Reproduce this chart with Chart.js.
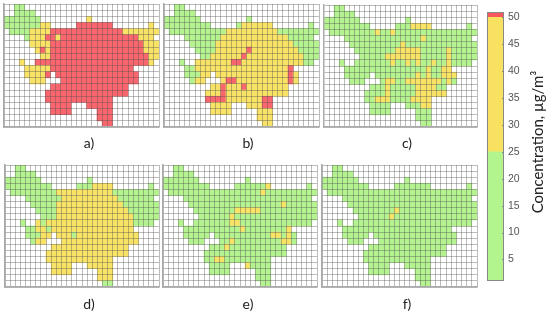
<!DOCTYPE html>
<html>
<head>
<meta charset="utf-8">
<script src="https://cdn.jsdelivr.net/npm/chart.js@4"></script>
<style>
  html, body { margin: 0; padding: 0; background: #fff; }
  canvas { position: absolute; }
</style>
</head>
<body>
<script>
// one string per grid row, top to bottom: . no data, g under 25, y 25-50, r over 50
var panelA = [
  "..gg..........................",
  "..gggg........................",
  "ggggggg.........y.............",
  "gggggggyy.....rrrrrrr.......y.",
  ".ggggyyyyrrrrrrrrrrrrrryyyyyyy",
  "....gyyyrryrrrrrrrrrrrrrrryyy.",
  ".....yyyyrrrrrrrrrrrrrrrrrryyy",
  "......yryrrrrrrrrrrrrrrrrrryyy",
  ".......yyrrrrrrrrrrrrrrrrrrryy",
  "...y..rrrrrrrrrrrrrrrrrrrrrry.",
  "....yyyyyrrrrrrrrrrrrrrrr.....",
  "....yyyyr.rrrrrrrrrrrrrrrr....",
  ".....yyy...rrrrrrrrrrrrrrr....",
  ".........rrrrrrrrrrrrrrr......",
  "........rrrrrrrrrrrrrrrr......",
  "........rrrrrrrrrrrrr.........",
  ".........rrrr...rrrrr.........",
  ".........rrrr.....rrr.........",
  "..................rrr.........",
  "...................rr........."
];
var panelB = [
  "..gg..........................",
  "..gggg........................",
  "ggggggg.........g.............",
  "ggggggggg.....gyyyyyy.......g.",
  ".gggggggggggyyyyyyyyyygggggggg",
  "....gggggggyyyyyyyyyyyyyggggg.",
  ".....gggggyyyyyyyyyyyyyyyggggg",
  "......ggggyyyyyyryyyyyyyyygggg",
  ".......ggyyyyyyryyyyyyyyyyyggg",
  "...g..yyyyyyyrryyyyyyyyyyyygg.",
  "....ggyyyyyyyyyyyyyyyyyyr.....",
  "....gggyy.yyyyyyyyyyyyyyry....",
  ".....gyy...yrryyyyyyyyyyry....",
  ".........yyryyyryyyyyyyy......",
  "........yyyryyyyyyyyyyyy......",
  "........rrrryyyyyyyrr.........",
  ".........yyyy...yyyrr.........",
  ".........yyyy.....yyy.........",
  "..................yyy.........",
  "...................yy........."
];
var panelC = [
  "..gg..........................",
  "..gggg........................",
  "ggggggg.........g.............",
  "ggggggggg.....gggyyyy.......g.",
  ".gggggggggyggygggggggggggggggg",
  "....gggggggggggggggyggggggggg.",
  ".....ggggggggggygggggggggggggg",
  "......ggggggggyyyyygggggyggggg",
  ".......gggggyyyyyyygggggyggggg",
  "...g..gggggggyggygyggyggygggg.",
  "....ggggggggggggggggyggyy.....",
  "....ggggg.ggggggggygyggyyy....",
  ".....ggg...gyyggyyyyyyygyg....",
  ".........gggygggggyyyygg......",
  "........ggggygggggyyyyyy......",
  "........ggyyyggggyyyy.........",
  ".........gggg...gggyy.........",
  ".........gggg.....ggg.........",
  "..................ggg.........",
  "...................gg........."
];
var panelD = [
  "..gg..........................",
  "..gggg........................",
  "ggggggg.........g.............",
  "ggggggggg.....gggyyyy.......g.",
  ".gggggggggyyyyyyyyyyyggggggggg",
  "....gggggggyyyyyyyyyyyggggggg.",
  ".....gggggyyyyyyyyyyyyyggggggg",
  "......ggggyyyyyyyyyyyyyygggggg",
  ".......gggyyyyyyyyyyyyyyyggggg",
  "...g..ygyyyyyyyyyyyyyyyyygggg.",
  "....ggyygyyyyyyyyyyyyyyyy.....",
  "....gggyy.yyygyyyyyyyyyyyy....",
  ".....gyy...yyyyyyyyyyyyyyy....",
  ".........yyyyyyyyyyyyyyy......",
  "........yyyyyyyyyyyyyyyy......",
  "........yyyyyyyyyyyyy.........",
  ".........yyyy...yyyyy.........",
  ".........yyyy.....yyy.........",
  "..................yyy.........",
  "...................gg........."
];
var panelE = [
  "..gg..........................",
  "..gggg........................",
  "ggggggg.........g.............",
  "ggggggggg.....ggggggy.......g.",
  ".ggggggggggggggggggygggggggggg",
  "....ggggggggggggggggggggggggg.",
  ".....ggggggggggggggggggygggggg",
  "......ggggggggyyyyyggggggggggg",
  ".......ggggggygggggggggggggggg",
  "...g..gggggggyygggggggggggggg.",
  "....gggggggggggyggggggggy.....",
  "....ggggg.gggggggggggyygyg....",
  ".....ggg...ggygggggggggyyg....",
  ".........gggyggggggggggg......",
  "........gggggggggggggggg......",
  "........ggyyggggggggg.........",
  ".........gggg...ygggg.........",
  ".........gggg.....ggg.........",
  "..................ggg.........",
  "...................gg........."
];
var panelF = [
  "..gg..........................",
  "..gggg........................",
  "ggggggg.........g.............",
  "ggggggggg.....ggggggg.......g.",
  ".ggggggggggggggggggggggggggggg",
  "....ggggggggggggggggggggggggg.",
  ".....ggggggggggggggggggggggggg",
  "......ggggggggyggggggggggggggg",
  ".......ggggggygggggggggggggggg",
  "...g..ggggggggggggggggggggggg.",
  "....ggggggggggggggggggggg.....",
  "....ggggg.gggggggggggggggg....",
  ".....ggg...ggggggggggggggg....",
  ".........ggggggggggggggg......",
  "........gggggggggggggggg......",
  "........ggggggggggggg.........",
  ".........gggg...ggggg.........",
  ".........gggg.....ggg.........",
  "..................ggg.........",
  "...................gg........."
];
var panelLabels = ["a)", "b)", "c)", "d)", "e)", "f)"];
var panelRows = [panelA, panelB, panelC, panelD, panelE, panelF];

var bandLow = [1, 25, 50];
var bandHigh = [25, 50, 51];
var tickValues = [5, 10, 15, 20, 25, 30, 35, 40, 45, 50];
var barTitle = "Concentration, µg/m³";

var cellColors = { ".": "rgba(0,0,0,0)", g: "#b4f390", y: "#f9e366", r: "#f9666d" };
var bandColors = ["#b2f58d", "#f8e161", "#f9565e"];
var gridColor = 'rgba(80,80,80,0.38)';
// left, top, width, height of each plot on the page, then centre and baseline of its label
var boxes = [
  [4, 4, 155, 123, 89, 148], [164, 4, 155, 123, 248, 148], [324, 5, 153, 122, 407, 148],
  [5, 165, 154, 122, 89, 309], [163, 165, 154, 122, 248, 309], [322, 165, 155, 122, 407, 309]
];

function addCanvas(left, top, w, h) {
  var c = document.createElement('canvas');
  c.width = w; c.height = h;
  c.style.left = left + 'px';
  c.style.top = top + 'px';
  c.style.width = w + 'px';
  c.style.height = h + 'px';
  document.body.appendChild(c);
  return c;
}

function drawPanel(rows, label, box) {
  var cols = [];
  for (var i = 0; i < rows[0].length; i++) cols.push(i + 1);
  // bars are stacked from the bottom, so the last row comes first
  var sets = rows.slice().reverse().map(function (row) {
    return {
      data: cols.map(function () { return 1; }),
      backgroundColor: row.split('').map(function (k) { return cellColors[k]; }),
      borderWidth: 0,
      barPercentage: 1,
      categoryPercentage: 1
    };
  });
  var labelPlugin = {
    id: 'panelLabel',
    afterDraw: function (chart) {
      var ctx = chart.ctx;
      ctx.save();
      ctx.fillStyle = '#222';
      ctx.font = '14px Lato';
      ctx.textAlign = 'center';
      ctx.fillText(label, box[4] - box[0] + 1, box[5] - box[1] + 1);
      ctx.restore();
    }
  };
  // the canvas runs on below the plot to hold the label
  var canvas = addCanvas(box[0] - 1, box[1] - 1, box[2] + 2, box[3] + 30);
  new Chart(canvas, {
    type: 'bar',
    data: { labels: cols, datasets: sets },
    options: {
      responsive: false,
      animation: false,
      layout: { padding: { left: 1, right: 1, top: 1, bottom: 0 } },
      plugins: { legend: { display: false }, tooltip: { enabled: false } },
      scales: {
        x: {
          stacked: true,
          afterFit: function (s) { s.height = 29; },
          grid: { offset: true, color: gridColor, lineWidth: 1, z: 1, drawTicks: false },
          border: { color: '#aaa', width: 1.5, z: 2 },
          ticks: { display: false }
        },
        y: {
          stacked: true,
          min: 0,
          max: rows.length,
          afterFit: function (s) { s.width = 0; },
          afterBuildTicks: function (s) {
            s.ticks = rows.concat([0]).map(function (r, i) { return { value: i }; });
          },
          grid: { color: gridColor, lineWidth: 1, z: 1, drawTicks: false },
          border: { color: '#aaa', width: 1.5, z: 2 },
          ticks: { display: false }
        }
      }
    },
    plugins: [labelPlugin]
  });
}

panelRows.forEach(function (rows, i) { drawPanel(rows, panelLabels[i], boxes[i]); });

// inward tick marks, frame and the bottom-to-top title of the colour bar
var barExtras = {
  id: 'barExtras',
  afterDraw: function (chart) {
    var ctx = chart.ctx, a = chart.chartArea, y = chart.scales.y;
    ctx.save();
    ctx.strokeStyle = '#888';
    ctx.lineWidth = 1;
    ctx.strokeRect(a.left + 0.5, a.top + 0.5, a.right - a.left - 1, a.bottom - a.top - 1);
    tickValues.forEach(function (v) {
      var p = Math.round(y.getPixelForValue(v)) + 0.5;
      ctx.beginPath();
      ctx.moveTo(a.right - 2, p);
      ctx.lineTo(a.right, p);
      ctx.stroke();
    });
    ctx.translate(58, 142);
    ctx.rotate(-Math.PI / 2);
    ctx.fillStyle = '#222';
    ctx.font = '15px Lato';
    ctx.textAlign = 'center';
    ctx.textBaseline = 'middle';
    ctx.fillText(barTitle, 0, 0);
    ctx.restore();
  }
};

new Chart(addCanvas(480, 0, 70, 317), {
  type: 'bar',
  data: {
    labels: [''],
    datasets: bandLow.map(function (lo, i) {
      return {
        data: [[lo, bandHigh[i]]],
        backgroundColor: bandColors[i],
        borderWidth: 0,
        barPercentage: 1,
        categoryPercentage: 1
      };
    })
  },
  options: {
    responsive: false,
    animation: false,
    layout: { padding: { left: 7, right: 0, top: 12, bottom: 36 } },
    plugins: { legend: { display: false }, tooltip: { enabled: false } },
    scales: {
      x: { stacked: true, display: false },
      y: {
        position: 'right',
        min: 1,
        max: 51,
        afterFit: function (s) { s.width = 46; },
        afterBuildTicks: function (s) {
          s.ticks = tickValues.map(function (v) { return { value: v }; });
        },
        grid: { display: false, drawTicks: false },
        border: { display: false },
        ticks: { color: '#555', padding: 4, font: { family: 'Liberation Sans', size: 10.5 } }
      }
    }
  },
  plugins: [barExtras]
});
</script>
</body>
</html>
